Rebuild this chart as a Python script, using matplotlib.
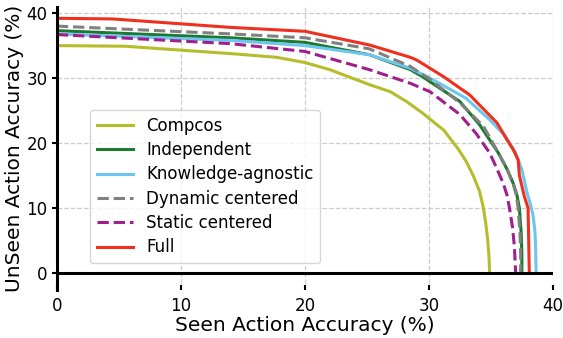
import matplotlib
matplotlib.use("Agg")
import matplotlib.pyplot as plt

# Curvas (Seen %, UnSeen %)
compcos_x = [0, 5.5, 10, 14.5, 17.7, 20, 22, 25.2, 26.9, 28.2, 29.5, 31.2, 32.4, 33.0, 33.6, 34.1, 34.4, 34.6, 34.75, 34.85, 34.9]
compcos_y = [35.0, 34.9, 34.3, 33.7, 33.2, 32.4, 31.3, 29.0, 27.9, 26.4, 24.6, 22.0, 19.0, 17.2, 14.9, 12.5, 10.0, 7.5, 5.0, 2.5, 0]

indep_x = [0, 14, 20, 25.2, 28.5, 29.5, 32.5, 34.1, 34.9, 35.6, 36.3, 36.8, 37.1, 37.3, 37.45, 37.5, 37.5]
indep_y = [37.3, 36.2, 35.5, 33.6, 31.3, 30.2, 26.4, 22.8, 20.5, 18.5, 16.0, 13.8, 12.0, 10.0, 6.0, 3.0, 0]

agn_x = [0, 14, 20, 25.2, 28.5, 30.1, 33.0, 34.9, 36.2, 37.0, 37.5, 37.9, 38.2, 38.4, 38.55, 38.6, 38.65]
agn_y = [36.8, 35.8, 35.0, 33.6, 31.5, 30.0, 26.9, 23.6, 21.0, 18.5, 15.9, 12.5, 10.5, 8.9, 6.5, 4.5, 0]

dyn_x = [0, 14, 20, 25.2, 28.5, 30.1, 32.5, 34.4, 35.6, 36.3, 36.8, 37.05, 37.2, 37.35, 37.4, 37.4]
dyn_y = [38.0, 36.8, 36.2, 34.5, 31.8, 29.8, 26.2, 22.6, 18.5, 16.0, 13.8, 12.0, 10.0, 6.0, 3.0, 0]

stat_x = [0, 14, 20, 25.2, 28.5, 30.1, 32.5, 33.8, 34.9, 35.5, 36.0, 36.3, 36.5, 36.75, 36.9, 37.0]
stat_y = [36.7, 35.3, 34.1, 31.3, 29.2, 27.9, 24.4, 21.5, 18.5, 16.0, 13.8, 12.0, 10.0, 7.0, 4.0, 0]

full_x = [0, 4.5, 14, 20, 25.2, 28.5, 29, 31.2, 33.3, 35.5, 36.3, 36.8, 37.2, 37.3, 37.7, 38.0, 38.05, 38.1]
full_y = [39.2, 39.1, 37.8, 37.2, 35.1, 33.2, 32.8, 30.2, 27.4, 23.1, 20.5, 19.0, 17.4, 15.0, 11.8, 10.0, 5.0, 0]

fig = plt.figure(figsize=(5.63, 3.38), dpi=100)
ax = fig.add_axes([0.101, 0.142, 0.881, 0.8385])

lw = 2.2
ax.plot(compcos_x, compcos_y, color='#b5bd2a', lw=lw, label='Compcos')
ax.plot(indep_x, indep_y, color='#1c7a30', lw=lw, label='Independent')
ax.plot(agn_x, agn_y, color='#6cc6ee', lw=lw, label='Knowledge-agnostic')
ax.plot(dyn_x, dyn_y, color='#808080', lw=lw, ls='--', label='Dynamic centered')
ax.plot(stat_x, stat_y, color='#a01f8f', lw=lw, ls='--', label='Static centered')
ax.plot(full_x, full_y, color='#f0301e', lw=lw, label='Full')

# linea negra en y=0 (el eje real queda un poco por debajo)
ax.axhline(0, color='black', lw=2.2, zorder=3)

ax.set_xlim(0, 40)
ax.set_ylim(-2.6, 41)
ax.set_xticks([0, 10, 20, 30, 40])
ax.set_yticks([0, 10, 20, 30, 40])
ax.tick_params(labelsize=12, width=1.5)
ax.tick_params(axis='x', direction='in', length=3.6, pad=5)
ax.tick_params(axis='y', direction='out', length=3.6, pad=3)
ax.grid(True, ls='--', color='#cccccc', lw=0.9)

for s in ['top', 'right', 'bottom']:
    ax.spines[s].set_visible(False)
ax.spines['left'].set_linewidth(2.2)

ax.set_xlabel('Seen Action Accuracy (%)', fontsize=14.5, labelpad=1)
ax.set_ylabel('UnSeen Action Accuracy (%)', fontsize=14.5, labelpad=2)

ax.legend(loc='lower left', bbox_to_anchor=(0.067, 0.095), borderaxespad=0,
          fontsize=12, handlelength=2.15, labelspacing=0.38, framealpha=0.8)

fig.savefig('out.png', dpi=100)
